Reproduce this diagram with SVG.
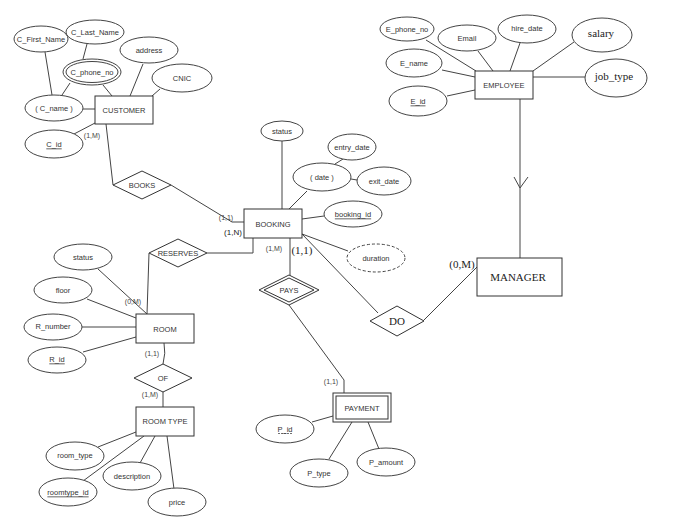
<svg xmlns="http://www.w3.org/2000/svg" width="680" height="532" viewBox="0 0 680 532">
<style>
.e{fill:#fff;stroke:#444;stroke-width:1}
.r{fill:#fff;stroke:#333;stroke-width:1}
.l{fill:none;stroke:#444;stroke-width:1}
.t{font-family:"Liberation Sans",Arial,sans-serif;font-size:7.5px;fill:#333;text-anchor:middle;dominant-baseline:central}
.s{font-family:"Liberation Serif","Times New Roman",serif;font-size:11px;fill:#222;text-anchor:middle;dominant-baseline:central}
.c{font-family:"Liberation Sans",Arial,sans-serif;font-size:7px;fill:#444;text-anchor:middle;dominant-baseline:central}
.u{text-decoration:underline}
</style>
<rect width="680" height="532" fill="#fff"/>
<g id="connectors">
<line class="l" x1="45" y1="52" x2="52" y2="95"/>
<line class="l" x1="87" y1="44" x2="83" y2="59"/>
<line class="l" x1="70" y1="83" x2="62" y2="95"/>
<line class="l" x1="103" y1="85" x2="112" y2="96"/>
<line class="l" x1="143" y1="64" x2="130" y2="96"/>
<line class="l" x1="160" y1="89" x2="152" y2="96"/>
<line class="l" x1="83" y1="109" x2="95" y2="109"/>
<line class="l" x1="74" y1="134" x2="95" y2="123"/>
<polyline class="l" points="106,124 113,185"/>
<polyline class="l" points="171,185 232,222 244,222"/>
<line class="l" x1="282" y1="141" x2="282" y2="209"/>
<line class="l" x1="335" y1="164" x2="343" y2="159"/>
<line class="l" x1="351" y1="179" x2="357" y2="180"/>
<line class="l" x1="307" y1="191" x2="289" y2="209"/>
<line class="l" x1="324" y1="216" x2="302" y2="219"/>
<line class="l" x1="302" y1="234" x2="348" y2="251"/>
<polyline class="l" points="253,238 253,253 207,253"/>
<line class="l" x1="290" y1="238" x2="290" y2="276"/>
<line class="l" x1="302" y1="234" x2="378" y2="313"/>
<line class="l" x1="423" y1="321" x2="477" y2="267"/>
<line class="l" x1="520" y1="99" x2="520" y2="258"/>
<polyline class="l" points="514,177 520,188 528,177"/>
<line class="l" x1="426" y1="40" x2="476" y2="71"/>
<line class="l" x1="442" y1="70" x2="475" y2="77"/>
<line class="l" x1="447" y1="96" x2="475" y2="90"/>
<line class="l" x1="478" y1="51" x2="493" y2="71"/>
<line class="l" x1="520" y1="43" x2="510" y2="71"/>
<line class="l" x1="574" y1="42" x2="533" y2="71"/>
<line class="l" x1="585" y1="77" x2="533" y2="77"/>
<line class="l" x1="149" y1="253" x2="147" y2="314"/>
<line class="l" x1="98" y1="269" x2="147" y2="314"/>
<line class="l" x1="87" y1="299" x2="136" y2="318"/>
<line class="l" x1="82" y1="327" x2="136" y2="327"/>
<line class="l" x1="83" y1="352" x2="136" y2="337"/>
<path class="l" d="M164,343 Q166,353 163,364"/>
<line class="l" x1="163" y1="392" x2="163" y2="407"/>
<line class="l" x1="98" y1="447" x2="136" y2="432"/>
<line class="l" x1="83" y1="481" x2="144" y2="436"/>
<line class="l" x1="140" y1="463" x2="155" y2="436"/>
<line class="l" x1="174" y1="489" x2="167" y2="436"/>
<polyline class="l" points="289,305 344,380 344,393"/>
<line class="l" x1="312" y1="422" x2="333" y2="416"/>
<line class="l" x1="329" y1="459" x2="352" y2="422"/>
<line class="l" x1="379" y1="449" x2="368" y2="422"/>
</g>
<g id="customer">
<rect class="r" x="95" y="96" width="58" height="28"/>
<text class="t" x="124" y="110">CUSTOMER</text>
</g>
<g id="c_first_name"><ellipse class="e" cx="41" cy="39" rx="27" ry="13"/><text class="t" x="41" y="39">C_First_Name</text></g>
<g id="c_last_name"><ellipse class="e" cx="95" cy="32" rx="29" ry="12"/><text class="t" x="95" y="32">C_Last_Name</text></g>
<g id="c_phone_no"><ellipse class="e" cx="92" cy="72" rx="29" ry="13"/><ellipse class="e" cx="92" cy="72" rx="26" ry="10.5"/><text class="t" x="92" y="72">C_phone_no</text></g>
<g id="address"><ellipse class="e" cx="149" cy="50" rx="29" ry="13"/><text class="t" x="149" y="50">address</text></g>
<g id="cnic"><ellipse class="e" cx="182" cy="78" rx="30" ry="14"/><text class="t" x="182" y="78">CNIC</text></g>
<g id="c_name"><ellipse class="e" cx="54" cy="108" rx="29" ry="13"/><text class="t" x="54" y="108">( C_name )</text></g>
<g id="c_id"><ellipse class="e" cx="54" cy="144" rx="29" ry="14"/><text class="t u" x="54" y="144">C_id</text></g>
<text class="c" x="92" y="135">(1,M)</text>
<g id="books">
<polygon class="r" points="113,185 142,171 171,185 142,199"/>
<text class="t" x="142" y="185">BOOKS</text>
</g>
<text class="c" x="226" y="217" fill="#777">(1,1)</text>
<text class="c" x="233" y="232" style="font-size:8px;fill:#222">(1,N)</text>
<g id="booking">
<rect class="r" x="244" y="209" width="58" height="29"/>
<text class="t" x="273" y="224">BOOKING</text>
</g>
<g id="status_b"><ellipse class="e" cx="282" cy="131" rx="21" ry="10"/><text class="t" x="282" y="131">status</text></g>
<g id="entry_date"><ellipse class="e" cx="352" cy="147" rx="24" ry="13"/><text class="t" x="352" y="147">entry_date</text></g>
<g id="date"><ellipse class="e" cx="322" cy="177" rx="29" ry="14"/><text class="t" x="322" y="177">( date )</text></g>
<g id="exit_date"><ellipse class="e" cx="384" cy="181" rx="27" ry="14"/><text class="t" x="384" y="181">exit_date</text></g>
<g id="booking_id"><ellipse class="e" cx="353" cy="214" rx="29" ry="13"/><text class="t u" x="353" y="214">booking_id</text></g>
<g id="duration"><ellipse class="e" cx="376" cy="258" rx="29" ry="14" stroke-dasharray="3,2" stroke="#888"/><text class="t" x="376" y="258">duration</text></g>
<text class="c" x="274" y="248">(1,M)</text>
<text class="s" x="302" y="250">(1,1)</text>
<g id="pays">
<polygon class="r" points="259,290 289,275 319,290 289,305"/>
<polygon class="r" points="264,290 289,278 314,290 289,302"/>
<text class="t" x="289" y="290">PAYS</text>
</g>
<g id="payment">
<rect class="r" x="333" y="393" width="58" height="29"/>
<rect class="r" x="336" y="396" width="52" height="23"/>
<text class="t" x="362" y="408">PAYMENT</text>
</g>
<text class="c" x="331" y="381">(1,1)</text>
<g id="p_id"><ellipse class="e" cx="285" cy="429" rx="29" ry="14"/><text class="t" x="285" y="429">P_id</text><line x1="278" y1="433.5" x2="292" y2="433.5" stroke="#333" stroke-width="0.7" stroke-dasharray="2,1"/></g>
<g id="p_type"><ellipse class="e" cx="319" cy="473" rx="29" ry="14"/><text class="t" x="319" y="473">P_type</text></g>
<g id="p_amount"><ellipse class="e" cx="386" cy="462" rx="29" ry="14"/><text class="t" x="386" y="462">P_amount</text></g>
<g id="do">
<polygon class="r" points="370,321 397,306 424,321 397,336"/>
<text class="s" x="397" y="321">DO</text>
</g>
<text class="s" x="462" y="264">(0,M)</text>
<g id="manager">
<rect class="r" x="477" y="258" width="85" height="38"/>
<text class="s" x="518" y="277">MANAGER</text>
</g>
<g id="employee">
<rect class="r" x="475" y="71" width="58" height="28"/>
<text class="t" x="504" y="85">EMPLOYEE</text>
</g>
<g id="e_phone_no"><ellipse class="e" cx="407" cy="29" rx="27" ry="12"/><text class="t" x="407" y="29">E_phone_no</text></g>
<g id="email"><ellipse class="e" cx="467" cy="38" rx="29" ry="13"/><text class="t" x="467" y="38">Email</text></g>
<g id="hire_date"><ellipse class="e" cx="527" cy="29" rx="29" ry="14"/><text class="t" x="527" y="28">hire_date</text></g>
<g id="salary"><ellipse class="e" cx="602" cy="35" rx="30" ry="17"/><text class="s" x="601" y="33">salary</text></g>
<g id="job_type"><ellipse class="e" cx="616" cy="78" rx="31" ry="19"/><text class="s" x="614" y="76">job_type</text></g>
<g id="e_name"><ellipse class="e" cx="414" cy="63" rx="28" ry="14"/><text class="t" x="414" y="63">E_name</text></g>
<g id="e_id"><ellipse class="e" cx="418" cy="101" rx="29" ry="15"/><text class="t u" x="418" y="101">E_id</text></g>
<g id="reserves">
<polygon class="r" points="149,253 178,239 207,253 178,267"/>
<text class="t" x="178" y="253">RESERVES</text>
</g>
<text class="c" x="133" y="301">(0,M)</text>
<g id="room">
<rect class="r" x="136" y="314" width="58" height="29"/>
<text class="t" x="165" y="329">ROOM</text>
</g>
<g id="status_r"><ellipse class="e" cx="83" cy="257" rx="29" ry="13"/><text class="t" x="83" y="257">status</text></g>
<g id="floor"><ellipse class="e" cx="63" cy="290" rx="29" ry="13"/><text class="t" x="63" y="290">floor</text></g>
<g id="r_number"><ellipse class="e" cx="53" cy="327" rx="29" ry="13"/><text class="t" x="53" y="326">R_number</text></g>
<g id="r_id"><ellipse class="e" cx="57" cy="360" rx="29" ry="13"/><text class="t u" x="57" y="359">R_id</text></g>
<text class="c" x="152" y="353">(1,1)</text>
<g id="of">
<polygon class="r" points="134,378 163,364 192,378 163,392"/>
<text class="t" x="163" y="378">OF</text>
</g>
<text class="c" x="150" y="394">(1,M)</text>
<g id="room_type_entity">
<rect class="r" x="136" y="407" width="58" height="29"/>
<text class="t" x="165" y="421">ROOM TYPE</text>
</g>
<g id="room_type"><ellipse class="e" cx="75" cy="456" rx="29" ry="14"/><text class="t" x="75" y="455">room_type</text></g>
<g id="roomtype_id"><ellipse class="e" cx="68" cy="492" rx="29" ry="14"/><text class="t u" x="68" y="492">roomtype_id</text></g>
<g id="description"><ellipse class="e" cx="132" cy="476" rx="29" ry="14"/><text class="t" x="132" y="476">description</text></g>
<g id="price"><ellipse class="e" cx="177" cy="502" rx="29" ry="14"/><text class="t" x="177" y="502">price</text></g>
</svg>
